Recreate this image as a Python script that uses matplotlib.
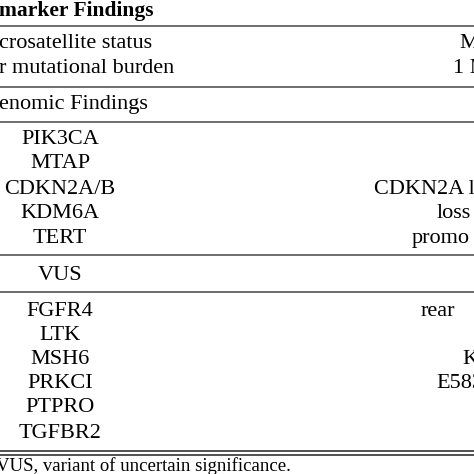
from matplotlib import pyplot as plt

# left column (cropped at figure edge in the original)
left_text = ['crosatellite status', 'r mutational burden']
left_y = [43, 68]
genes1 = ['PIK3CA', 'MTAP', 'CDKN2A/B', 'KDM6A', 'TERT']
genes1_y = [140, 164, 189, 213, 238]
genes2 = ['FGFR4', 'LTK', 'MSH6', 'PRKCI', 'PTPRO', 'TGFBR2']
genes2_y = [311, 335, 360, 384, 408, 433]
# right column pieces, as much as the crop shows
right_text = ['M', '1 M', 'CDKN2A l', 'loss', 'promo', 'rear', 'K', 'E583']
right_x = [459, 453, 374, 437, 412, 421, 462, 436]
right_y = [43, 68, 189, 213, 238, 311, 360, 384]
rules = [26, 87, 122, 255, 292]

W = H = 474
fig = plt.figure(figsize=(4.74, 4.74), dpi=100)
ax = fig.add_axes([0, 0, 1, 1])
ax.set_xlim(0, W)
ax.set_ylim(H, 0)
ax.axis('off')
fam = ['Liberation Serif', 'DejaVu Serif']
fs = 16

ax.text(-1, 11, 'marker Findings', fontsize=15.5, fontweight='bold', family=fam, va='center', ha='left')
ax.text(-1, 104, 'enomic Findings', fontsize=fs, family=fam, va='center', ha='left')
for t, y in zip(left_text, left_y):
    ax.text(-1, y, t, fontsize=fs, family=fam, va='center', ha='left')
for t, y in zip(genes1 + genes2, genes1_y + genes2_y):
    ax.text(60, y, t, fontsize=fs, family=fam, va='center', ha='center')
ax.text(60, 275, 'VUS', fontsize=fs, family=fam, va='center', ha='center')
for t, x, y in zip(right_text, right_x, right_y):
    ax.text(x, y, t, fontsize=fs, family=fam, va='center', ha='left')
for y in rules:
    ax.axhline(y, color='#555555', lw=1.2)
ax.axhline(451, color='#333333', lw=1.2)
ax.axhline(454.5, color='#333333', lw=1.2)
ax.text(-4, 466, 'VUS, variant of uncertain significance.', fontsize=13.5, family=fam, va='center', ha='left')

plt.savefig('out.png', dpi=100)
